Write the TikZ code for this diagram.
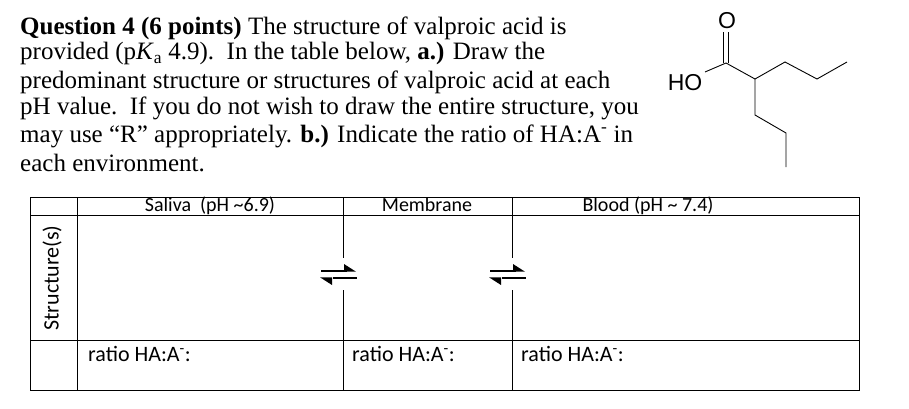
\documentclass[tikz,border=0pt]{standalone}
\usepackage{fontspec}
\setmainfont{Liberation Serif}
\newfontfamily\calfont{Carlito}
\newfontfamily\arialfont{Liberation Sans}
\begin{document}
\begin{tikzpicture}[x=1pt,y=-1pt,
  qline/.style={anchor=base west,inner sep=0pt,font=\fontsize{25}{28}\selectfont},
  cell/.style={font=\calfont\fontsize{22}{24}\selectfont,inner sep=0pt},
  head/.style={font=\calfont\fontsize{20}{22}\selectfont,inner sep=0pt,anchor=base},
  grid/.style={line width=0.8pt},
  bond/.style={line width=0.9pt}]
\useasboundingbox (0,0) rectangle (909,409);
% question text
\node[qline] (l1) at (20,35) {\textbf{Question 4 (6 points)} The structure of valproic acid is};
\node[qline] (l2) at (20,60) {provided (p\textit{K}\textsubscript{a} 4.9).\ \ In the table below, \textbf{a.)} Draw the};
\node[qline] (l3) at (20,89) {predominant structure or structures of valproic acid at each};
\node[qline] (l4) at (20,114) {pH value.\ \ If you do not wish to draw the entire structure, you};
\node[qline] (l5) at (20,142) {may use ``R'' appropriately. \textbf{b.)} Indicate the ratio of HA:A\textsuperscript{-} in};
\node[qline] (l6) at (20,171) {each environment.};
% molecule
\coordinate (co) at (726,63);
\coordinate (ca) at (755,79);
\node[font=\arialfont\fontsize{23}{23}\selectfont,inner sep=0pt] (O) at (727,21) {O};
\node[font=\arialfont\fontsize{23}{23}\selectfont,inner sep=0pt] (HO) at (685,83) {HO};
\draw[bond] (723.5,63) -- (723.5,32);
\draw[bond] (728.5,63) -- (728.5,32);
\draw[bond] (705,72) -- (co) -- (ca) -- (785,62) -- (817,79) -- (847,62);
\draw[bond] (ca) -- (755,115) -- (786,133) -- (786,167);
% table
\draw[grid] (30,197) rectangle (859,390);
\draw[grid] (30,215) -- (859,215);
\draw[grid] (30,340) -- (859,340);
\draw[grid] (77,197) -- (77,390);
\foreach \x in {343,512}{
  \draw[grid] (\x,197) -- (\x,258);
  \draw[grid] (\x,290) -- (\x,390);
  \draw[line width=1.4pt] (\x-22,271) -- (\x+4,271);
  \fill (\x+13,271.7) -- (\x+1,264) -- (\x+1,271.7) -- cycle;
  \draw[line width=1.4pt] (\x-10,278) -- (\x+14,278);
  \fill (\x-23,277.3) -- (\x-11,285) -- (\x-11,277.3) -- cycle;
}
\node[head] (h1) at (210,211) {Saliva\ \ (pH \textasciitilde6.9)};
\node[head] (h2) at (427,211) {Membrane};
\node[head] (h3) at (648,211) {Blood (pH \textasciitilde\ 7.4)};
\node[cell,rotate=90] (st) at (52,278) {Structure(s)};
\node[cell,anchor=west] (r1) at (88,354) {ratio HA:A\textsuperscript{-}:};
\node[cell,anchor=west] (r2) at (352,354) {ratio HA:A\textsuperscript{-}:};
\node[cell,anchor=west] (r3) at (521,354) {ratio HA:A\textsuperscript{-}:};
\end{tikzpicture}
\end{document}
